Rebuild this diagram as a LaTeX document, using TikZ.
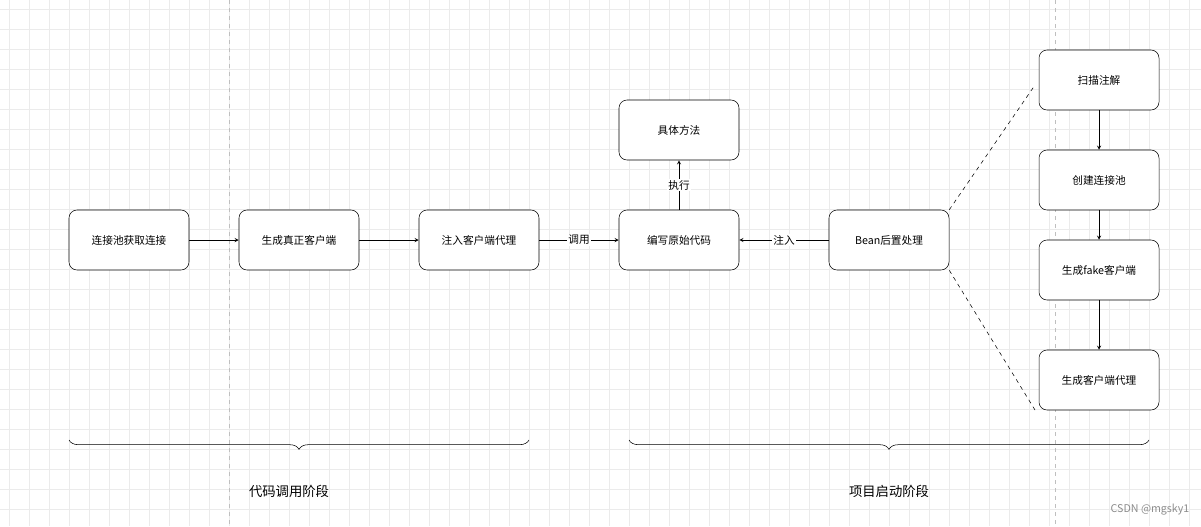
\documentclass[tikz,border=0pt]{standalone}
\usepackage{fontspec}
\setmainfont{Noto Sans CJK SC}
\usetikzlibrary{positioning,decorations.pathreplacing}
\begin{document}
\begin{tikzpicture}[x=0.75pt,y=-0.75pt,>=stealth,font=\fontsize{8}{10}\selectfont,
  box/.style={draw,rounded corners=6pt,minimum width=90pt,minimum height=45pt,fill=white},
  lbl/.style={fill=white,inner sep=1pt}]
\useasboundingbox (0,0) rectangle (1201,526);
% background grid
\fill[white] (0,0) rectangle (1201,526);
\draw[black!8,step=15pt,shift={(9,9)}] (-9,-9) grid (1192,517);
\draw[black!25,dashed] (229,0) -- (229,526);
\draw[black!25,dashed] (1055,0) -- (1055,526);
%nodes
\node[box] (pool) at (129,240) {连接池获取连接};
\node[box] (real) at (299,240) {生成真正客户端};
\node[box] (inj) at (479,240) {注入客户端代理};
\node[box] (code) at (679,240) {编写原始代码};
\node[box] (meth) at (679,130) {具体方法};
\node[box] (bean) at (889,240) {Bean后置处理};
\node[box] (scan) at (1099,80) {扫描注解};
\node[box] (mk) at (1099,180) {创建连接池};
\node[box] (fake) at (1099,270) {生成fake客户端};
\node[box] (proxy) at (1099,380) {生成客户端代理};
\coordinate (d1) at (1035,85);
\coordinate (d2) at (1035,410);
%paths
\draw[->] (pool) -- (real);
\draw[->] (real) -- (inj);
\draw[->] (inj) -- node[lbl] {调用} (code);
\draw[->] (bean) -- node[lbl] {注入} (code);
\draw[->] (code) -- node[lbl] {执行} (meth);
\draw[->] (scan) -- (mk);
\draw[->] (mk) -- (fake);
\draw[->] (fake) -- (proxy);
\draw[dashed] (bean.north east) -- (d1);
\draw[dashed] (bean.south east) -- (d2);
%braces
\draw[decorate,decoration={brace,mirror,amplitude=7pt}] (69,440) -- (529,440);
\draw[decorate,decoration={brace,mirror,amplitude=7pt}] (629,440) -- (1149,440);
\node (s1) at (289,491) {\fontsize{10}{12}\selectfont 代码调用阶段};
\node (s2) at (889,491) {\fontsize{10}{12}\selectfont 项目启动阶段};
\node[text=black!45] (wm) at (1150,510) {CSDN @mgsky1};
\end{tikzpicture}
\end{document}
